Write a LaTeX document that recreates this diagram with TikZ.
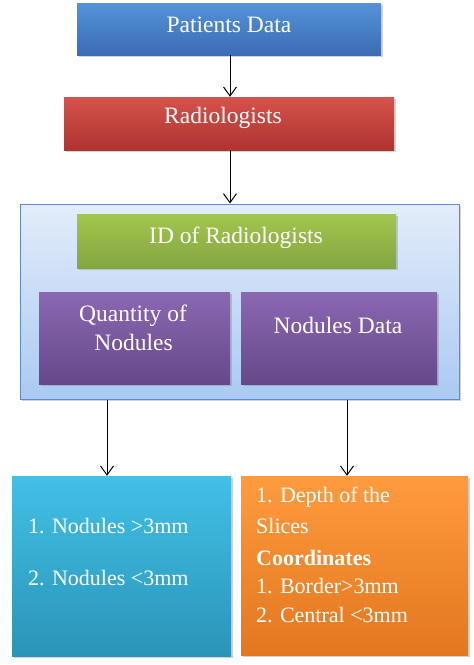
\documentclass[tikz,border=0pt]{standalone}
\usepackage{fontspec}
\setmainfont{Liberation Serif}
\usetikzlibrary{arrows.meta,shadows}
\definecolor{bluetop}{HTML}{5592DA}
\definecolor{bluebot}{HTML}{3B6CB4}
\definecolor{redtop}{HTML}{D6524C}
\definecolor{redbot}{HTML}{B0332F}
\definecolor{greentop}{HTML}{A2C64E}
\definecolor{greenbot}{HTML}{84A541}
\definecolor{purtop}{HTML}{8B68B2}
\definecolor{purbot}{HTML}{67488A}
\definecolor{cyantop}{HTML}{42C0E6}
\definecolor{cyanbot}{HTML}{2A94B8}
\definecolor{orgtop}{HTML}{FF9B3E}
\definecolor{orgbot}{HTML}{E2771F}
\definecolor{outtop}{HTML}{E3ECFA}
\definecolor{outbot}{HTML}{AACAF2}
\definecolor{outline}{HTML}{5B8BD0}
\tikzset{
  box/.style={rectangle, inner sep=0pt, draw=none,
    drop shadow={shadow xshift=1.5pt, shadow yshift=-2pt, opacity=0.35}},
  lbl/.style={text=white, font=\fontsize{23.5}{28}\selectfont, inner sep=0pt, anchor=base},
  lbls/.style={text=white, font=\fontsize{22}{26}\selectfont, inner sep=0pt, anchor=base west},
  arr/.style={draw=black, line width=1pt, -{Straight Barb[length=9pt,width=13pt,line width=1pt]}}
}
\begin{document}
\begin{tikzpicture}[x=1pt,y=-1pt]
\useasboundingbox[fill=white] (0,0) rectangle (474,665);
% boxes
\node[box, top color=bluetop, bottom color=bluebot, minimum width=304pt, minimum height=52pt] (pd) at (229,29) {};
\node[box, top color=redtop, bottom color=redbot, minimum width=330pt, minimum height=53pt] (rad) at (229,123.5) {};
\node[box, top color=outtop, bottom color=outbot, draw=outline, line width=1pt, minimum width=439pt, minimum height=195pt] (outer) at (239.5,301.5) {};
\node[box, top color=greentop, bottom color=greenbot, minimum width=319pt, minimum height=54pt] (id) at (236.5,241) {};
\node[box, top color=purtop, bottom color=purbot, minimum width=191pt, minimum height=92pt] (qty) at (134.5,338) {};
\node[box, top color=purtop, bottom color=purbot, minimum width=196pt, minimum height=92pt] (nd) at (339,338) {};
\node[box, top color=cyantop, bottom color=cyanbot, minimum width=219pt, minimum height=180pt] (cy) at (121.5,566) {};
\node[box, top color=orgtop, bottom color=orgbot, minimum width=227pt, minimum height=179pt] (og) at (354.5,565.5) {};
% labels
\node[lbl] (tpd) at (229,32) {Patients Data};
\node[lbl] (trad) at (223,123) {Radiologists};
\node[lbl] (tid) at (236,243) {ID of Radiologists};
\node[lbl] (tq1) at (133,321) {Quantity of};
\node[lbl] (tq2) at (133.5,350) {Nodules};
\node[lbl] (tnd) at (338,333) {Nodules Data};
\node[lbls] (c1) at (28,533) {1. Nodules >3mm};
\node[lbls] (c2) at (28,585) {2. Nodules <3mm};
\node[lbls] (o1) at (256,502) {1. Depth of the};
\node[lbls] (o2) at (256,533) {Slices};
\node[lbls] (o3) at (256,565) {\bfseries Coordinates};
\node[lbls] (o4) at (256,593) {1. Border>3mm};
\node[lbls] (o5) at (256,622) {2. Central <3mm};
% connectors
\coordinate (xa) at (230,0);
\coordinate (xl) at (107,0);
\coordinate (xr) at (347,0);
\draw[arr] (pd.south -| xa) -- (rad.north -| xa);
\draw[arr] (rad.south -| xa) -- (outer.north -| xa);
\draw[arr] (outer.south -| xl) -- (cy.north -| xl);
\draw[arr] (outer.south -| xr) -- (og.north -| xr);
\end{tikzpicture}
\end{document}
